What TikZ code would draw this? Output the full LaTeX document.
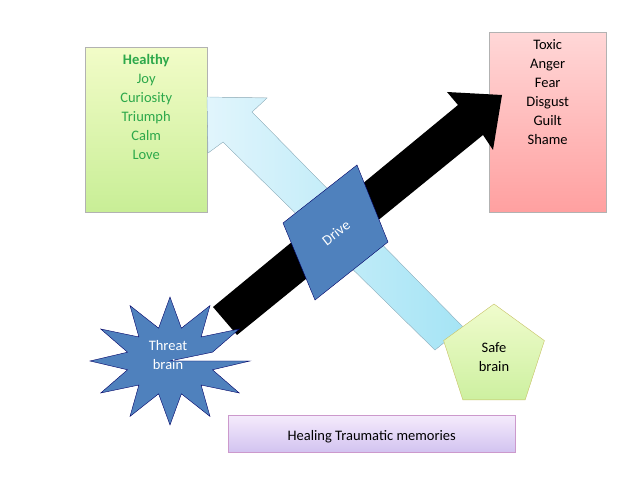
\documentclass[tikz,border=0pt]{standalone}
\usepackage{fontspec}
\setmainfont{Carlito}
\usetikzlibrary{shapes.geometric,calc}
\begin{document}
\begin{tikzpicture}[x=1pt,y=-1pt,font=\fontsize{14.5}{19}\selectfont,
  box/.style={draw=gray!60,align=center,anchor=north west,inner sep=0pt}]
\definecolor{shapeblue}{HTML}{4F81BD}
\definecolor{okgreen}{HTML}{2CA84A}
\useasboundingbox (0,0) rectangle (638,478);
%boxes
\node[box,minimum width=122pt,minimum height=165pt,top color={rgb,255:red,242;green,252;blue,200},bottom color={rgb,255:red,200;green,238;blue,150}] (healthy) at (85,47) {};
\node[anchor=north,text=okgreen,align=center] (healthytxt) at ($(healthy.north)+(0,4)$) {\textbf{Healthy}\\Joy\\Curiosity\\Triumph\\Calm\\Love};
\node[box,minimum width=117pt,minimum height=180pt,top color={rgb,255:red,255;green,215;blue,215},bottom color={rgb,255:red,255;green,160;blue,160}] (toxic) at (489,32) {};
\node[anchor=north,align=center] (toxictxt) at ($(toxic.north)+(0,4)$) {Toxic\\Anger\\Fear\\Disgust\\Guilt\\Shame};
%light blue arrow
\fill[left color={rgb,255:red,225;green,245;blue,252},right color={rgb,255:red,165;green,228;blue,245},draw=cyan!40!gray!60]
  (463,327) -- (252,112) -- (267,98) -- (207,97) -- (208,153) -- (223,142) -- (435,350) -- cycle;
%black arrow
\fill (213,307) -- (458,105) -- (447,92) -- (502,95) -- (493,150) -- (483,135) -- (237,335) -- cycle;
%drive
\draw[fill=shapeblue,draw=blue!40!black] (283,223) -- (357,165) -- (388,242) -- (315,300) -- cycle;
\node[text=white,rotate=38,inner sep=0pt] (drive) at (336,233) {Drive};
%threat brain
\fill[shapeblue,draw=blue!40!black] (170,361)
  \foreach \i in {0,...,23} {
    \ifodd\i -- ($(170,361)+({\i*15}:{44} and {34})$)
    \else -- ($(170,361)+({\i*15}:{80} and {64})$) \fi } -- cycle;
\node[text=white,align=center] (threat) at (168,355) {Threat\\brain};
%safe brain
\node[regular polygon,regular polygon sides=5,minimum size=106pt,draw=olive!50,
  top color={rgb,255:red,240;green,252;blue,205},bottom color={rgb,255:red,205;green,240;blue,160},align=center] (safe) at (494,357) {Safe\\brain};
%healing
\node[box,minimum width=287pt,minimum height=37pt,draw=violet!40,
  top color={rgb,255:red,245;green,235;blue,252},bottom color={rgb,255:red,210;green,195;blue,240}] (heal) at (228,415) {};
\node (healtxt) at ($(heal.center)+(0,3)$) {Healing Traumatic memories};
\end{tikzpicture}
\end{document}
